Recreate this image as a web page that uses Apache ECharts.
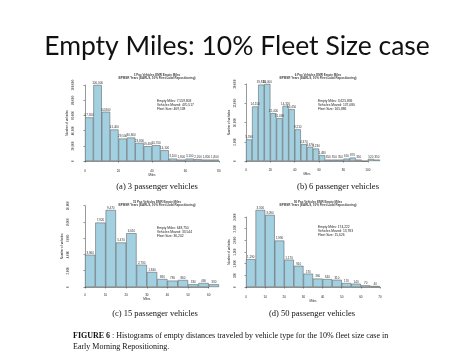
<!DOCTYPE html>
<html><head><meta charset="utf-8">
<script src="https://cdn.jsdelivr.net/npm/echarts@6/dist/echarts.min.js"></script>
<style>html,body{margin:0;padding:0;background:#fff}#c{width:474px;height:355px}</style>
</head><body><div id="c"></div><script>
// ---- data (counts of vehicles per empty-distance bin) ----
const valsA = [57300, 100000, 64800, 41400, 29500, 30800, 23800, 19400, 20700, 14100, 3100, 1800, 3100, 2200, 1800, 1800];
const valsB = [5590, 14150, 19830, 20000, 12400, 11090, 14320, 13450, 8210, 4370, 3670, 3230, 1480, 350, 350, 350, 610, 870, 350, 0, 520, 350];
const valsC = [3960, 7920, 9470, 5470, 6610, 2730, 1840, 980, 780, 860, 330, 490, 330];
const valsD = [1190, 3300, 3090, 1990, 1170, 910, 570, 360, 340, 310, 170, 140, 70, 40];
const captions = ['(a) 3 passenger vehicles', '(b) 6 passenger vehicles', '(c) 15 passenger vehicles', '(d) 50 passenger vehicles'];
const panelTitles = [
  ['3 Pax Vehicles EMR Empty Miles', 'BPMSR Years (EARLS, 10% Fleet Load Repositioning)'],
  ['6 Pax Vehicles EMR Empty Miles', 'BPMSR Years (EARLS, 10% Fleet Load Repositioning)'],
  ['15 Pax Vehicles EMR Empty Miles', 'BPMSR Years (EARLS, 10% Fleet Load Repositioning)'],
  ['50 Pax Vehicles EMR Empty Miles', 'BPMSR Years (EARLS, 10% Fleet Load Repositioning)']
];
const stats = [
  ['Empty Miles: 7,559,803', 'Vehicles Moved: 470,517', 'Fleet Size: 469,138'],
  ['Empty Miles: 3,625,836', 'Vehicles Moved: 137,080', 'Fleet Size: 165,886'],
  ['Empty Miles: 648,750', 'Vehicles Moved: 33,544', 'Fleet Size: 36,202'],
  ['Empty Miles: 174,222', 'Vehicles Moved: 13,783', 'Fleet Size: 15,626']
];
const binWidths = [5, 5, 5, 5];
const yTicks = [[0, 100000, 20000], [0, 20000, 5000], [0, 10000, 2000], [0, 3000, 500]];
const xTicks = [[0, 80, 20], [0, 100, 20], [0, 60, 10], [0, 70, 10]];
const mainTitle = 'Empty Miles: 10% Fleet Size case';
const figCaption1 = 'Histograms of empty distances traveled by vehicle type for the 10% fleet size case in';
const figCaption2 = 'Early Morning Repositioning.';

// ---- layout ----
const layout = [
  {left: 85, width: 134, base: 161, top: 85, xOff: 7, yOff: 9, cx: 152, cy: 177, sx: 152, sy: 94, ty: 68},
  {left: 246, width: 134, base: 161, top: 84, xOff: 6, yOff: 8, cx: 333, cy: 177, sx: 313, sy: 94, ty: 68},
  {left: 85, width: 134, base: 287, top: 210, xOff: 5, yOff: 14, cx: 150, cy: 304, sx: 152, sy: 221, ty: 195},
  {left: 246, width: 134, base: 287, top: 210, xOff: 7, yOff: 8, cx: 307, cy: 304, sx: 313, sy: 220, ty: 195}
];
const allVals = [valsA, valsB, valsC, valsD];

const grid = [], xAxis = [], yAxis = [], series = [], titles = [];
const tiny = {fontFamily: 'Liberation Sans, Arial, sans-serif', fontSize: 3, color: '#222'};

titles.push({text: mainTitle, left: 'center', top: 28,
  textStyle: {fontFamily: 'Lato, sans-serif', fontSize: 26.5, fontWeight: 'normal', color: '#111'}});

allVals.forEach((vals, i) => {
  const L = layout[i];
  const maxV = Math.max(...vals);
  const cats = vals.map((v, k) => (k * binWidths[i]) + '-' + ((k + 1) * binWidths[i]));
  const axisBins = Math.round((xTicks[i][1] - xTicks[i][0]) / binWidths[i]);
  const gTop = L.base - (L.base - L.top) * yTicks[i][1] / maxV;
  // bar grid
  grid.push({left: L.left, top: L.top, width: L.width, height: L.base - L.top});
  const gb = grid.length - 1;
  xAxis.push({gridIndex: gb, type: 'category', data: cats, show: false, boundaryGap: true});
  yAxis.push({gridIndex: gb, type: 'value', min: 0, max: maxV, show: false});
  series.push({type: 'bar', xAxisIndex: xAxis.length - 1, yAxisIndex: yAxis.length - 1,
    data: vals, barCategoryGap: '0%', barGap: '0%',
    itemStyle: {color: '#a2d0e1', borderColor: '#505050', borderWidth: 0.5},
    label: {show: true, position: 'top', distance: 0.5, fontSize: 3, color: '#333',
      formatter: p => p.value ? p.value.toLocaleString('en-US') : ''},
    silent: true, animation: false});
  // axis grid
  grid.push({left: L.left, top: gTop, width: L.width * axisBins / vals.length, height: L.base - gTop});
  const ga = grid.length - 1;
  xAxis.push({gridIndex: ga, type: 'value', min: xTicks[i][0], max: xTicks[i][1], interval: xTicks[i][2],
    offset: L.xOff, splitLine: {show: false},
    axisLine: {show: true, lineStyle: {color: '#333', width: 0.5}},
    axisTick: {show: true, length: 1.5, lineStyle: {color: '#333', width: 0.5}},
    axisLabel: Object.assign({margin: 1.5}, tiny),
    name: 'Miles', nameLocation: 'middle', nameGap: 6, nameTextStyle: tiny});
  yAxis.push({gridIndex: ga, type: 'value', min: yTicks[i][0], max: yTicks[i][1], interval: yTicks[i][2],
    offset: L.yOff, splitLine: {show: false},
    axisLine: {show: true, lineStyle: {color: '#333', width: 0.5}},
    axisTick: {show: true, length: 1.5, lineStyle: {color: '#333', width: 0.5}},
    axisLabel: Object.assign({margin: 1.5, rotate: 90}, tiny),
    name: 'Number of vehicles', nameLocation: 'middle', nameGap: 7, nameRotate: 90, nameTextStyle: tiny});
  // texts
  titles.push({text: panelTitles[i].join('\n'), left: L.left + L.width / 2, top: L.ty, textAlign: 'center',
    textStyle: {fontFamily: 'Liberation Sans, Arial, sans-serif', fontSize: 3, lineHeight: 3.6, color: '#444', fontWeight: 'bold'}});
  titles.push({text: stats[i].join('\n'), left: L.sx, top: L.sy,
    textStyle: {fontFamily: 'Liberation Sans, Arial, sans-serif', fontSize: 3.3, lineHeight: 3.9, color: '#222', fontWeight: 'normal'}});
  titles.push({text: captions[i], left: L.cx, top: L.cy, textAlign: 'center',
    textStyle: {fontFamily: 'Liberation Serif, Times New Roman, serif', fontSize: 8.5, fontWeight: 'normal', color: '#111'}});
});

titles.push({text: '{b|FIGURE 6} : ' + figCaption1 + '\n' + figCaption2, left: 68, top: 325,
  textStyle: {fontFamily: 'Liberation Serif, Times New Roman, serif', fontSize: 8, lineHeight: 11, fontWeight: 'normal', color: '#111',
    rich: {b: {fontFamily: 'Liberation Serif, Times New Roman, serif', fontSize: 8, fontWeight: 'bold', color: '#111'}}}});

const chart = echarts.init(document.getElementById('c'), null, {renderer: 'canvas'});
chart.setOption({backgroundColor: '#fff', animation: false, title: titles, grid, xAxis, yAxis, series});
</script></body></html>
